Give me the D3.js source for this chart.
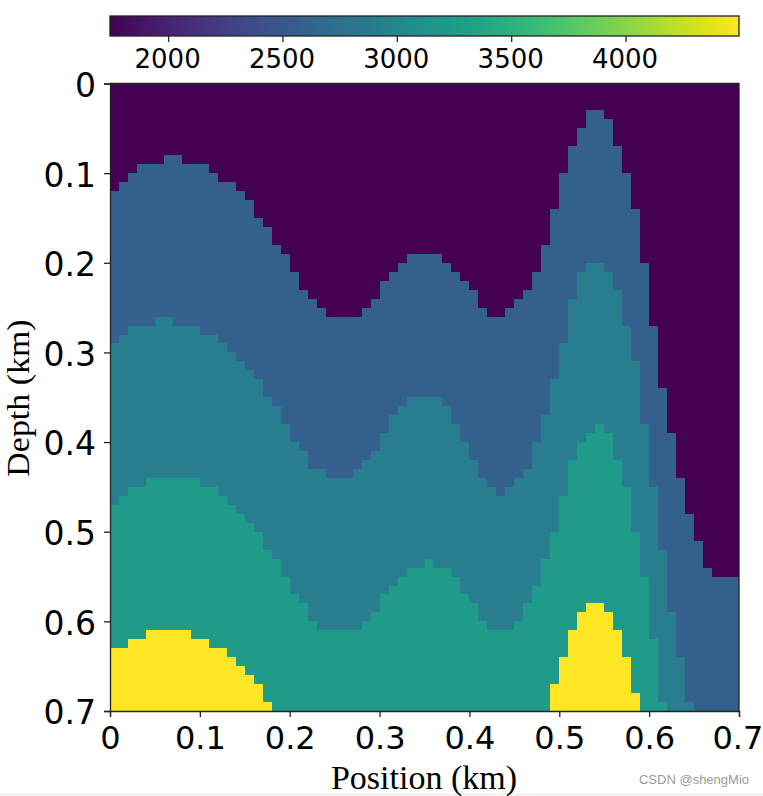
<!DOCTYPE html>
<html><head><meta charset="utf-8">
<script src="https://cdn.jsdelivr.net/npm/d3@7"></script>
<style>html,body{margin:0;padding:0;background:#fff;overflow:hidden}svg{display:block}</style>
</head><body><svg id="c" width="763" height="796"></svg>
<script>
// Layer velocities (m/s), top to bottom
const layerVelocity = [1750, 2575, 2900, 3260, 4500];
// Depth of each layer base, per 0.01 km column, in 0.01 km samples
const interface1 = [12,11,10,9,9,9,8,8,9,9,9,10,11,11,12,13,15,16,18,19,21,23,24,25,26,26,26,26,25,24,22,21,20,19,19,19,19,20,21,22,23,25,26,26,25,24,23,21,18,14,10,7,5,3,3,4,7,10,14,20,27,34,39,44,48,51,54,55,55,55];
const interface2 = [29,28,27,27,27,26,26,27,27,27,28,28,29,30,31,32,33,35,36,38,40,41,43,43,44,44,44,43,42,41,39,37,36,35,35,35,35,36,38,40,42,44,45,46,45,44,43,40,37,33,29,24,21,20,20,21,23,27,31,38,45,52,59,64,69,70,70,70,70,70];
const interface3 = [47,46,45,45,44,44,44,44,44,44,45,45,46,47,48,49,50,52,53,55,57,58,60,61,61,61,61,61,60,59,57,56,55,54,54,53,54,54,55,57,58,60,61,61,61,60,58,56,53,50,46,42,40,39,38,39,42,45,50,55,62,69,70,70,70,70,70,70,70,70];
const interface4 = [63,63,62,62,61,61,61,61,61,62,62,63,63,64,65,66,67,69,70,70,70,70,70,70,70,70,70,70,70,70,70,70,70,70,70,70,70,70,70,70,70,70,70,70,70,70,70,70,70,67,64,61,59,58,58,59,61,64,68,70,70,70,70,70,70,70,70,70,70,70];
const interfaces = [interface1, interface2, interface3, interface4];
const spacing = 0.01;
const axisTicks = [0,0.1,0.2,0.3,0.4,0.5,0.6,0.7];
const colorbarTicks = [2000,2500,3000,3500,4000];
const colorbarDomain = [1746,4496];

const svg = d3.select('#c');
const L=110,R=739,T=83.5,B=711;
const x = d3.scaleLinear().domain([0,0.7]).range([L,R]);
const y = d3.scaleLinear().domain([0,0.7]).range([T,B]);
const color = d3.scaleSequential(d3.interpolateViridis).domain(colorbarDomain);
const tickFont = '"DejaVu Sans",sans-serif';

// page-bottom strip
svg.append('rect').attr('x',0).attr('y',793).attr('width',763).attr('height',3).attr('fill','#f4f4f4');

// cells, one run per column and layer
const runs = [];
d3.range(70).forEach(i=>{
  const bounds = [0,...interfaces.map(a=>a[i]),70];
  layerVelocity.forEach((v,k)=>{
    if(bounds[k+1]>bounds[k]) runs.push({i,top:bounds[k],bot:bounds[k+1],v});
  });
});
svg.append('g').selectAll('rect').data(runs).join('rect')
  .attr('x',d=>Math.round(x(d.i*spacing)))
  .attr('width',d=>Math.round(x((d.i+1)*spacing))-Math.round(x(d.i*spacing)))
  .attr('y',d=>Math.round(y(d.top*spacing)))
  .attr('height',d=>Math.round(y(d.bot*spacing))-Math.round(y(d.top*spacing)))
  .attr('fill',d=>color(d.v))
  .attr('shape-rendering','crispEdges');

const fmt = d=> d===0?'0':d3.format('.1f')(d);
function styleAxis(g,size){
  g.selectAll('text').attr('font-family',tickFont).attr('font-size',size).attr('fill','#000');
  g.selectAll('line').attr('stroke','#222').attr('stroke-width',1.3);
  g.selectAll('path').attr('stroke','#222').attr('stroke-width',1.3);
}
const gx = svg.append('g').attr('transform',`translate(0,${B})`)
  .call(d3.axisBottom(x).tickValues(axisTicks).tickFormat(fmt).tickSize(6).tickPadding(9));
styleAxis(gx,32);
gx.selectAll('text').filter(d=>d===0.7).attr('dx',-1.6);
const gy = svg.append('g').attr('transform',`translate(${L},0)`)
  .call(d3.axisLeft(y).tickValues(axisTicks).tickFormat(fmt).tickSize(6).tickPadding(8));
styleAxis(gy,33);
gy.selectAll('text').attr('dy','0.39em');
// frame on top and right
svg.append('path').attr('d',`M${L},${T}H${R}V${B}`).attr('fill','none').attr('stroke','#222').attr('stroke-width',1.3);

svg.append('text').attr('x',424).attr('y',789).attr('text-anchor','middle')
  .attr('font-family','"Liberation Serif",serif').attr('font-size',34).text('Position (km)');
svg.append('text').attr('transform','translate(28.5,398) rotate(-90) scale(1.06,1)').attr('text-anchor','middle')
  .attr('font-family','"Liberation Serif",serif').attr('font-size',32).text('Depth (km)');
svg.append('text').attr('x',749).attr('y',784).attr('text-anchor','end')
  .attr('font-family','"Liberation Sans",sans-serif').attr('font-size',13).attr('fill','#9a9a9a').text('CSDN @shengMio');

// colorbar
const cbT=16,cbB=36;
const cx = d3.scaleLinear().domain(colorbarDomain).range([L,R]);
const grad = svg.append('defs').append('linearGradient').attr('id','vir');
d3.range(0,1.0001,0.05).forEach(t=>grad.append('stop').attr('offset',t).attr('stop-color',d3.interpolateViridis(t)));
svg.append('rect').attr('x',L).attr('y',cbT).attr('width',R-L).attr('height',cbB-cbT).attr('fill','url(#vir)').attr('stroke','#222').attr('stroke-width',1.3);
const gc = svg.append('g').attr('transform',`translate(0,${cbB})`)
  .call(d3.axisBottom(cx).tickValues(colorbarTicks).tickFormat(d3.format('d')).tickSize(6).tickPadding(8));
gc.select('path').remove();
styleAxis(gc,26);
gc.selectAll('text').attr('dx',-1);
</script></body></html>
